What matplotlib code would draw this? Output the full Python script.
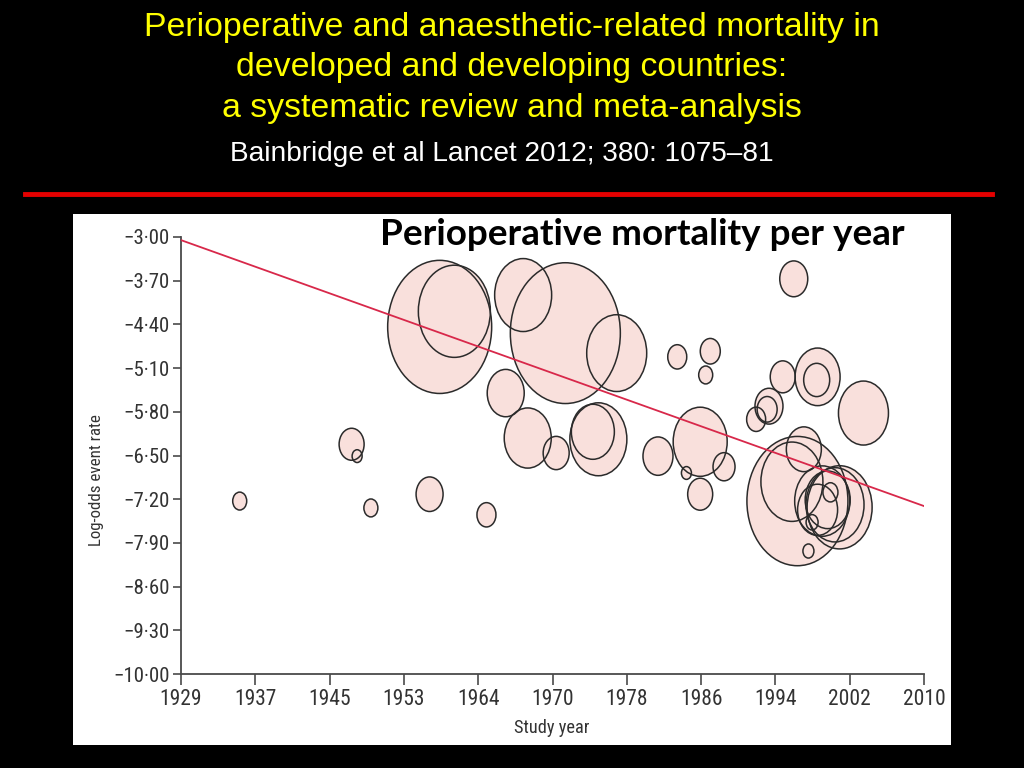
import matplotlib
matplotlib.use("Agg")
import matplotlib.pyplot as plt
import numpy as np
from matplotlib.path import Path
from matplotlib.markers import MarkerStyle
from matplotlib.patches import Rectangle
from matplotlib.lines import Line2D
import logging
logging.getLogger("matplotlib.font_manager").setLevel(logging.ERROR)

# ---------------- data ----------------
title_lines = ["Perioperative and anaesthetic-related mortality in",
               "developed and developing countries:",
               "a systematic review and meta-analysis"]
citation = "Bainbridge et al Lancet 2012; 380: 1075\u201381"
panel_title = "Perioperative mortality per year"

study_year = [1935.4, 1947.6, 1948.2, 1949.7, 1956.1, 1962.3, 1957.2, 1958.8,
              1966.3, 1970.9, 1976.5, 1964.4, 1966.8, 1969.9, 1973.9, 1974.5,
              1981.0, 1983.1, 1986.7, 1986.2, 1985.6, 1984.1, 1985.6, 1988.2,
              1995.8, 1991.7, 1993.1, 1992.9, 1994.6, 1998.4, 1998.3, 2003.4,
              1996.9, 1996.2, 1995.6, 1998.9, 1999.5, 2000.3, 2000.8, 1998.4,
              1999.8, 1997.8, 1997.4]
log_odds = [-7.23, -6.32, -6.51, -7.34, -7.12, -7.45, -4.44, -4.19,
            -3.93, -4.54, -4.86, -5.50, -6.22, -6.46, -6.12, -6.24,
            -6.51, -4.92, -4.83, -5.21, -6.28, -6.78, -7.12, -6.68,
            -3.67, -5.92, -5.71, -5.76, -5.24, -5.24, -5.29, -5.82,
            -6.40, -7.23, -6.92, -7.23, -7.21, -7.29, -7.33, -7.37,
            -7.09, -7.57, -8.03]
study_weight = [14, 25, 10, 14, 27, 19, 104, 72,
                57, 110, 60, 37, 47, 26, 43, 57,
                30, 19, 20, 14, 54, 10, 25, 22,
                28, 19, 28, 20, 25, 45, 26, 50,
                35, 101, 62, 55, 45, 58, 65, 40,
                15, 12, 11]

fit_years = [1929, 2010]
fit_values = [-3.05, -7.31]

x_tick_labels = ["1929", "1937", "1945", "1953", "1964", "1970",
                 "1978", "1986", "1994", "2002", "2010"]
y_tick_values = [-3.0, -3.7, -4.4, -5.1, -5.8, -6.5, -7.2, -7.9, -8.6, -9.3, -10.0]
x_label = "Study year"
y_label = "Log-odds event rate"

# ---------------- style ----------------
narrow = ["Roboto Condensed", "Liberation Sans Narrow", "Roboto", "DejaVu Sans"]
arial = ["Liberation Sans", "DejaVu Sans"]
axis_col = "#4a4a4a"
fill_col = "#f9e0dc"
edge_col = "#2b2b2b"

fig = plt.figure(figsize=(10.24, 7.68), dpi=100, facecolor="black")

# header
for txt, base in zip(title_lines, [36, 76, 117]):
    fig.text(0.5, 1 - base / 768, txt, ha="center", va="baseline",
             color="#ffff00", fontsize=24.4, family=arial)
fig.text(502 / 1024, 1 - 161 / 768, citation, ha="center", va="baseline",
         color="white", fontsize=20.2, family=arial)
fig.add_artist(Line2D([25 / 1024, 992 / 1024], [1 - 194 / 768, 1 - 194 / 768],
                      color="#e50000", lw=3.5, transform=fig.transFigure))

# white panel
fig.add_artist(Rectangle((73 / 1024, 23 / 768), 878 / 1024, 531 / 768,
                         facecolor="white", edgecolor="none",
                         transform=fig.transFigure, zorder=0))

ax = fig.add_axes([181 / 1024, 94 / 768, 743 / 1024, 437 / 768])
ax.set_facecolor("none")
ax.set_xlim(fit_years[0], fit_years[1])
ax.set_ylim(-10.0, -3.0)

# elliptical bubble marker (taller than wide)
circ = Path.unit_circle()
ell = Path(circ.vertices * np.array([1.0, 1.28]), circ.codes)
marker = MarkerStyle(ell)
sizes = [(w * 1.28 * 0.72) ** 2 for w in study_weight]

ax.scatter(study_year, log_odds, s=sizes, marker=marker, facecolor=fill_col,
           edgecolor="none", zorder=2, clip_on=False)
ax.scatter(study_year, log_odds, s=sizes, marker=marker, facecolor="none",
           edgecolor=edge_col, linewidths=1.1, zorder=3, clip_on=False)

ax.plot(fit_years, fit_values, color="#d8284a", lw=1.3, zorder=4)

# axes styling
for side in ["top", "right"]:
    ax.spines[side].set_visible(False)
for side in ["left", "bottom"]:
    ax.spines[side].set_color(axis_col)
    ax.spines[side].set_linewidth(1.3)

ax.set_xticks(np.linspace(fit_years[0], fit_years[1], len(x_tick_labels)))
ax.set_xticklabels(x_tick_labels)
ax.set_yticks(y_tick_values)
ax.set_yticklabels([("\u2212%.2f" % abs(v)).replace(".", "\u00b7") for v in y_tick_values])
ax.tick_params(axis="both", colors=axis_col, labelcolor="#333333", width=1.2,
               direction="out")
ax.tick_params(axis="x", length=8, pad=3, labelsize=15.5)
ax.tick_params(axis="y", length=6, pad=2, labelsize=15)
for lab in ax.get_xticklabels() + ax.get_yticklabels():
    lab.set_family(narrow)

fig.text(514 / 1024, 1 - 728 / 768, x_label, ha="left", va="center",
         fontsize=13.2, color="#333333", family=narrow)
fig.text(97 / 1024, 1 - 480 / 768, y_label, ha="center", va="center",
         rotation=90, fontsize=12.2, color="#333333", family=narrow)

fig.text(642 / 1024, 1 - 245 / 768, panel_title, ha="center", va="baseline",
         fontsize=26.6, fontweight="bold", color="black", family=["Lato", "DejaVu Sans"])

fig.savefig("out.png", dpi=100, facecolor="black")
